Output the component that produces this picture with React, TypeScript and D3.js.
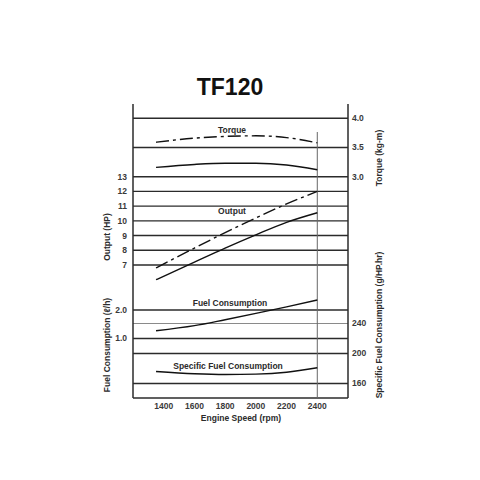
import React from 'react';
import * as d3 from 'd3';

// engine speed (rpm) sample points for every curve
const rpm = [1350, 1600, 1800, 2000, 2200, 2400];
const rpmTicks = [1400, 1600, 1800, 2000, 2200, 2400];

// torque (kg-m): max (dash-dot) and continuous (solid)
const torqueMax = [3.59, 3.66, 3.69, 3.70, 3.67, 3.58];
const torqueCont = [3.16, 3.21, 3.23, 3.23, 3.20, 3.12];

// output (HP)
const outputMax = [6.8, 8.15, 9.2, 10.2, 11.15, 12.0];
const outputCont = [6.0, 7.2, 8.15, 9.05, 9.9, 10.55];

// fuel consumption (l/h) and specific fuel consumption (g/HP.hr)
const fuel = [1.27, 1.45, 1.66, 1.88, 2.11, 2.35];
const sfc = [176, 173, 172, 172.5, 175, 181];

const torqueTicks = [4.0, 3.5, 3.0];
const outputTicks = [7, 8, 9, 10, 11, 12, 13];
const fuelTicks = [1.0, 2.0];
const sfcTicks = [160, 200, 240];

const FONT = "'Liberation Sans', Arial, sans-serif";
const INK = '#2b2b2b';

const App: React.FC = () => {
  const left = 133, right = 348, top = 104, bottom = 398;

  const x = d3.scaleLinear().domain([1200, 2600]).range([left, right]);
  const yTorque = d3.scaleLinear().domain([3.0, 4.0]).range([176.7, 118.3]);
  const yOut = d3.scaleLinear().domain([7, 13]).range([265, 176.7]);
  const yFuel = d3.scaleLinear().domain([1.0, 2.0]).range([338.5, 310]);
  const ySfc = d3.scaleLinear().domain([160, 240]).range([383.5, 323.5]);

  const mk = (scale: d3.ScaleLinear<number, number>, vals: number[]) =>
    d3.line<number>()
      .curve(d3.curveMonotoneX)
      .x((_, i) => x(rpm[i]))
      .y(d => scale(d))(vals) || '';

  const dashDot = '13,4,3,4';

  // grid lines across the frame
  const grid: { y: number; c: string; w: number }[] = [
    ...torqueTicks.filter(t => t !== 3.0).map(t => ({ y: yTorque(t), c: INK, w: 1.4 })),
    ...outputTicks.map(t => ({ y: yOut(t), c: INK, w: 1.4 })),
    ...fuelTicks.map(t => ({ y: yFuel(t), c: INK, w: 1.4 })),
    ...sfcTicks.map(t => ({ y: ySfc(t), c: t === 240 ? '#8a8a8a' : INK, w: t === 240 ? 1.2 : 1.4 })),
  ];

  const tickStyle = { fontFamily: FONT, fontSize: 8.5, fontWeight: 700, fill: '#3a3a3a' } as const;
  const labelStyle = { fontFamily: FONT, fontSize: 8.5, fontWeight: 700, fill: INK } as const;

  return (
    <svg width={480} height={480} style={{ position: 'absolute', left: 0, top: 0, background: '#fff' }}>
      <text x={230} y={95} textAnchor="middle" fontFamily={FONT} fontSize={23} fontWeight={700} fill="#111">TF120</text>

      {grid.map((g, i) => (
        <line key={i} x1={left} x2={right} y1={g.y} y2={g.y} stroke={g.c} strokeWidth={g.w} />
      ))}

      {/* frame */}
      <line x1={left} x2={left} y1={top} y2={bottom} stroke={INK} strokeWidth={1.5} />
      <line x1={right} x2={right} y1={top} y2={bottom} stroke={INK} strokeWidth={1.5} />
      <line x1={left} x2={right} y1={bottom} y2={bottom} stroke={INK} strokeWidth={1.5} />
      <line x1={x(2400)} x2={x(2400)} y1={132} y2={bottom} stroke="#666" strokeWidth={1} />

      {/* curves */}
      <path d={mk(yTorque, torqueMax)} fill="none" stroke="#111" strokeWidth={1.4} strokeDasharray={dashDot} />
      <path d={mk(yTorque, torqueCont)} fill="none" stroke="#111" strokeWidth={1.4} />
      <path d={mk(yOut, outputMax)} fill="none" stroke="#111" strokeWidth={1.4} strokeDasharray={dashDot} />
      <path d={mk(yOut, outputCont)} fill="none" stroke="#111" strokeWidth={1.4} />
      <path d={mk(yFuel, fuel)} fill="none" stroke="#111" strokeWidth={1.4} />
      <path d={mk(ySfc, sfc)} fill="none" stroke="#111" strokeWidth={1.4} />

      {/* curve labels */}
      <text x={232} y={133} textAnchor="middle" {...labelStyle}>Torque</text>
      <text x={232} y={214} textAnchor="middle" {...labelStyle}>Output</text>
      <text x={230} y={306} textAnchor="middle" {...labelStyle}>Fuel Consumption</text>
      <text x={228} y={369} textAnchor="middle" {...labelStyle}>Specific Fuel Consumption</text>

      {/* left ticks */}
      {outputTicks.map(t => (
        <text key={'o' + t} x={127} y={yOut(t)} dy="0.35em" textAnchor="end" {...tickStyle}>{t}</text>
      ))}
      {fuelTicks.map(t => (
        <text key={'f' + t} x={127} y={yFuel(t)} dy="0.35em" textAnchor="end" {...tickStyle}>{t.toFixed(1)}</text>
      ))}

      {/* right ticks */}
      {torqueTicks.map(t => (
        <text key={'t' + t} x={352} y={yTorque(t)} dy="0.35em" {...tickStyle}>{t.toFixed(1)}</text>
      ))}
      {sfcTicks.map(t => (
        <text key={'s' + t} x={352} y={ySfc(t)} dy="0.35em" {...tickStyle}>{t}</text>
      ))}

      {/* x ticks */}
      {rpmTicks.map(t => (
        <text key={'x' + t} x={x(t)} y={409} textAnchor="middle" {...tickStyle}>{t}</text>
      ))}
      <text x={241} y={421} textAnchor="middle" {...labelStyle}>Engine Speed (rpm)</text>

      {/* axis titles */}
      <text transform="translate(110,237) rotate(-90)" textAnchor="middle" {...labelStyle}>Output (HP)</text>
      <text transform="translate(110,345) rotate(-90)" textAnchor="middle" {...labelStyle}>Fuel Consumption (ℓ/h)</text>
      <text transform="translate(382,158) rotate(-90)" textAnchor="middle" {...labelStyle}>Torque (kg-m)</text>
      <text transform="translate(382,325) rotate(-90)" textAnchor="middle" {...labelStyle}>Specific Fuel Consumption (g/HP.hr)</text>
    </svg>
  );
};

export default App;
